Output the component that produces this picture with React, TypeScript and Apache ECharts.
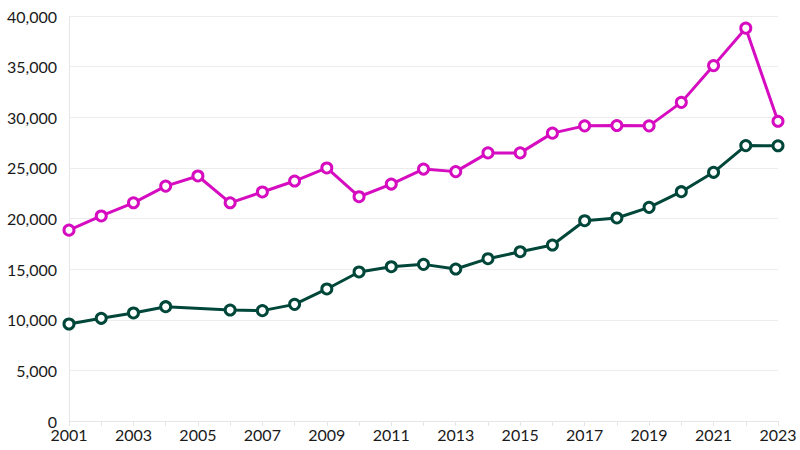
import React, { useEffect, useRef } from "react";
import * as echarts from "echarts";

const years = [
  "2001", "2002", "2003", "2004", "2005", "2006", "2007", "2008", "2009", "2010", "2011", "2012",
  "2013", "2014", "2015", "2016", "2017", "2018", "2019", "2020", "2021", "2022", "2023",
];

const magentaSeries = [
  18850, 20250, 21550, 23200, 24200, 21550, 22620, 23700, 24990, 22150, 23400, 24880,
  24630, 26480, 26480, 28430, 29150, 29180, 29150, 31470, 35100, 38800, 29600,
];

const greenSeries: (number | null)[] = [
  9580, 10140, 10670, 11290, null, 10960, 10900, 11520, 13040, 14720, 15240, 15470,
  15010, 16030, 16720, 17380, 19780, 20050, 21100, 22650, 24560, 27200, 27180,
];

const yTicks = { min: 0, max: 40000, interval: 5000 };

export default function App() {
  const ref = useRef<HTMLDivElement>(null);
  useEffect(() => {
    if (!ref.current) return;
    const chart = echarts.init(ref.current, undefined, { renderer: "svg" });
    const font = "Lato, 'Noto Sans', sans-serif";
    chart.setOption({
      animation: false,
      grid: { left: 69, right: 22, top: 16, bottom: 29, containLabel: false },
      xAxis: {
        type: "category",
        data: years,
        boundaryGap: false,
        axisLine: { show: true, lineStyle: { color: "#e6e6e6", width: 1 } },
        axisTick: { show: true, interval: 0, length: 5, lineStyle: { color: "#e6e6e6" } },
        axisLabel: {
          interval: 1,
          color: "#1a1a1a",
          fontFamily: font,
          fontSize: 16,
          margin: 5,
        },
        splitLine: { show: false },
      },
      yAxis: {
        type: "value",
        min: yTicks.min,
        max: yTicks.max,
        interval: yTicks.interval,
        axisLine: { show: true, lineStyle: { color: "#e6e6e6" } },
        axisTick: { show: false },
        axisLabel: {
          color: "#1a1a1a",
          fontFamily: font,
          fontSize: 16,
          margin: 12,
          formatter: (v: number) => v.toLocaleString("en-US"),
        },
        splitLine: { show: true, lineStyle: { color: "#ececec", width: 1 } },
      },
      series: [
        {
          type: "line",
          data: magentaSeries,
          symbol: "circle",
          symbolSize: 10,
          lineStyle: { color: "#d60cc0", width: 3 },
          itemStyle: { color: "#ffffff", borderColor: "#d60cc0", borderWidth: 3 },
          z: 2,
        },
        {
          type: "line",
          data: greenSeries,
          connectNulls: true,
          symbol: "circle",
          symbolSize: 10,
          lineStyle: { color: "#00473a", width: 3 },
          itemStyle: { color: "#ffffff", borderColor: "#00473a", borderWidth: 3 },
          z: 3,
        },
      ],
    });
    return () => chart.dispose();
  }, []);
  return <div ref={ref} style={{ width: 800, height: 450, position: "absolute", left: 0, top: 0 }} />;
}
